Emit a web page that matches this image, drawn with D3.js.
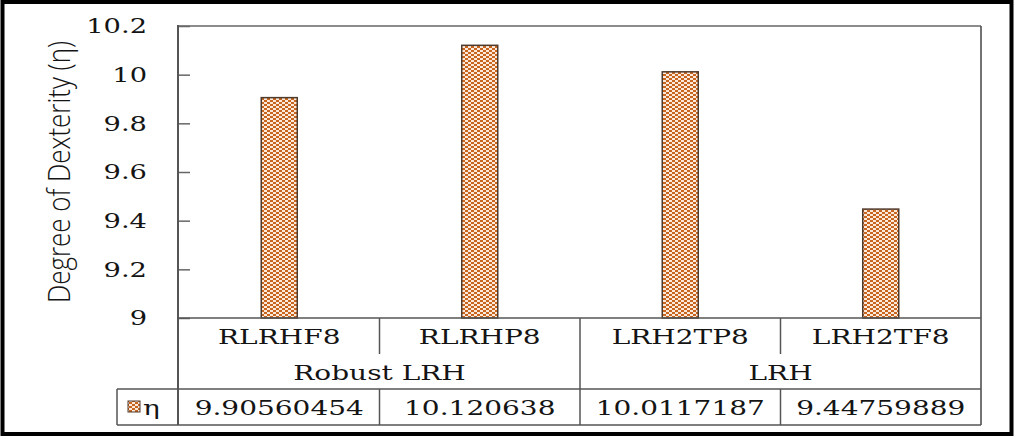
<!DOCTYPE html>
<html>
<head>
<meta charset="utf-8">
<script src="https://cdn.jsdelivr.net/npm/d3@7"></script>
<style>
  body { margin: 0; background: #fff; }
  svg { display: block; }
</style>
</head>
<body>
<svg id="chart"></svg>
<script>
// data
let categories = ['RLRHF8', 'RLRHP8', 'LRH2TP8', 'LRH2TF8'];
let groupOf = ['Robust LRH', 'Robust LRH', 'LRH', 'LRH'];
let groupNames = ['Robust LRH', 'LRH'];
let etaValues = [9.90560454, 10.120638, 10.0117187, 9.44759889];
let yTicks = [9, 9.2, 9.4, 9.6, 9.8, 10, 10.2];
let seriesName = '\u03b7';
let yTitle = 'Degree of Dexterity (\u03b7)';

let w = 1016;
let h = 438;

// the source image is stretched sideways, so text gets widened too
let stretch = 1.4;
let serif = '"DejaVu Serif", serif';
let textColor = '#141414';

let plotLeft = 178;
let plotRight = 981;
let plotTop = 26;
let plotBottom = 318;
let catRowBottom = 354;
let groupRowBottom = 389;
let tableBottom = 425;
let legendLeft = 117;

let chart = d3.select('#chart')
  .attr('width', w)
  .attr('height', h);

// checkered fill like the excel pattern
let defs = chart.append('defs');
let pat = defs.append('pattern')
  .attr('id', 'checks')
  .attr('patternUnits', 'userSpaceOnUse')
  .attr('width', 6)
  .attr('height', 4);
pat.append('rect').attr('width', 6).attr('height', 4).attr('fill', '#fbe9dc');
pat.append('rect').attr('x', 0).attr('y', 0).attr('width', 3).attr('height', 2).attr('fill', '#c8651f');
pat.append('rect').attr('x', 3).attr('y', 2).attr('width', 3).attr('height', 2).attr('fill', '#c8651f');

chart.append('rect')
  .attr('width', w)
  .attr('height', h)
  .attr('fill', '#fff');

// outer frame
chart.append('rect')
  .attr('x', 2.5)
  .attr('y', 2)
  .attr('width', w - 7)
  .attr('height', h - 6)
  .attr('fill', 'none')
  .attr('stroke', '#000')
  .attr('stroke-width', 4);

let xScale = d3.scaleBand()
  .domain(categories)
  .range([plotLeft + 1, plotRight])
  .paddingInner(0)
  .paddingOuter(0);

let yScale = d3.scaleLinear()
  .domain([d3.min(yTicks), d3.max(yTicks)])
  .range([plotBottom, plotTop]);

let barWidth = 36;

// plot frame: top and right edges
chart.append('line')
  .attr('x1', plotLeft).attr('x2', plotRight)
  .attr('y1', plotTop).attr('y2', plotTop)
  .attr('stroke', '#8c8c8c').attr('stroke-width', 2);
chart.append('line')
  .attr('x1', plotRight).attr('x2', plotRight)
  .attr('y1', plotTop).attr('y2', tableBottom)
  .attr('stroke', '#444').attr('stroke-width', 1.5);

// bars
chart.selectAll('rect.bar')
  .data(etaValues)
  .enter()
  .append('rect')
  .attr('class', 'bar')
  .attr('x', (d, i) => xScale(categories[i]) + xScale.bandwidth() / 2 - barWidth / 2)
  .attr('y', (d) => yScale(d))
  .attr('width', barWidth)
  .attr('height', (d) => plotBottom - yScale(d))
  .attr('fill', 'url(#checks)')
  .attr('stroke', '#4f3b2c')
  .attr('stroke-width', 1.5);

// y axis, ticks point into the plot
let yAxis = chart.append('g')
  .attr('class', 'yaxis axis')
  .attr('transform', `translate(${plotLeft}, 0)`)
  .call(d3.axisLeft(yScale).tickValues(yTicks).tickSize(-12).tickFormat(d3.format('')));

yAxis.select('.domain').remove();
yAxis.selectAll('.tick line')
  .attr('stroke', '#666')
  .attr('stroke-width', 1.5);
yAxis.selectAll('.tick text')
  .attr('x', 0)
  .attr('dy', '0.35em')
  .attr('transform', `translate(-31, 0) scale(${stretch}, 1)`)
  .attr('font-family', serif)
  .attr('font-size', 19.5)
  .attr('fill', textColor)
  .attr('text-anchor', 'end');

chart.append('line')
  .attr('x1', plotLeft).attr('x2', plotLeft)
  .attr('y1', plotTop - 1).attr('y2', tableBottom)
  .attr('stroke', '#555').attr('stroke-width', 2);

// axis title
chart.append('text')
  .attr('transform', `translate(70, ${(plotTop + plotBottom) / 2}) scale(${stretch}, 1) rotate(-90)`)
  .attr('text-anchor', 'middle')
  .attr('font-family', '"Open Sans", "Liberation Sans", sans-serif')
  .attr('font-weight', 300)
  .attr('font-size', 22)
  .attr('textLength', 262)
  .attr('lengthAdjust', 'spacingAndGlyphs')
  .attr('fill', textColor)
  .text(yTitle);

// DATA TABLE under the plot
let lineColor = '#555';
function tableLine(x1, y1, x2, y2) {
  chart.append('line')
    .attr('x1', x1).attr('y1', y1)
    .attr('x2', x2).attr('y2', y2)
    .attr('stroke', lineColor)
    .attr('stroke-width', 1.5);
}

tableLine(plotLeft, plotBottom, plotRight, plotBottom);
tableLine(legendLeft, groupRowBottom, plotRight, groupRowBottom);
tableLine(legendLeft, tableBottom, plotRight, tableBottom);
tableLine(legendLeft, groupRowBottom, legendLeft, tableBottom);

// separators between categories
categories.forEach((c, i) => {
  if (i === 0) return;
  let x = xScale(c);
  let groupEdge = groupOf[i] !== groupOf[i - 1];
  if (groupEdge) {
    tableLine(x, plotBottom, x, tableBottom);
  } else {
    tableLine(x, plotBottom, x, catRowBottom);
    tableLine(x, groupRowBottom, x, tableBottom);
  }
});

function tableText(x, y, txt) {
  chart.append('text')
    .attr('transform', `translate(${x}, ${y}) scale(${stretch}, 1)`)
    .attr('text-anchor', 'middle')
    .attr('dy', '0.35em')
    .attr('font-family', serif)
    .attr('font-size', 20)
    .attr('fill', textColor)
    .text(txt);
}

categories.forEach((c) => {
  tableText(xScale(c) + xScale.bandwidth() / 2, (plotBottom + catRowBottom) / 2 + 1, c);
});

groupNames.forEach((g) => {
  let members = categories.filter((c, i) => groupOf[i] === g);
  let x0 = xScale(members[0]);
  let x1 = xScale(members[members.length - 1]) + xScale.bandwidth();
  tableText((x0 + x1) / 2, (catRowBottom + groupRowBottom) / 2 + 1, g);
});

etaValues.forEach((v, i) => {
  tableText(xScale(categories[i]) + xScale.bandwidth() / 2, (groupRowBottom + tableBottom) / 2 + 1, String(v));
});

// legend key inside the table
chart.append('rect')
  .attr('x', 128)
  .attr('y', 401)
  .attr('width', 12)
  .attr('height', 11)
  .attr('fill', 'url(#checks)')
  .attr('stroke', '#4f3b2c')
  .attr('stroke-width', 1);

chart.append('text')
  .attr('transform', `translate(143, ${(groupRowBottom + tableBottom) / 2 + 1}) scale(${stretch}, 1)`)
  .attr('dy', '0.35em')
  .attr('font-family', serif)
  .attr('font-size', 20)
  .attr('fill', textColor)
  .text(seriesName);
</script>
</body>
</html>
